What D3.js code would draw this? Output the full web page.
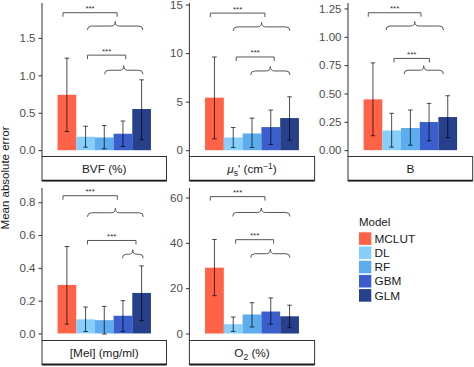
<!DOCTYPE html>
<html>
<head>
  <title>Mean absolute error by model</title>
  <script src="https://d3js.org/d3.v7.min.js"></script>
  <style>
    body { margin: 0; background: #fff; font-family: "Liberation Sans", Arial, sans-serif; }
    .tick text { fill: #4d4d4d; font-size: 11.5px; }
    .tick line { stroke: #333; }
  </style>
</head>
<body>
<div id="chart"></div>
<script>
  // Models and colours
  let models = ['MCLUT', 'DL', 'RF', 'GBM', 'GLM'];
  let modelColors = ['#FF6347', '#87CEFA', '#5CACEE', '#3A5FCD', '#27408B'];

  // Mean absolute error, lower and upper error bar ends, per parameter
  let bvfMean  = [0.74, 0.18, 0.17, 0.22, 0.55];
  let bvfLow   = [0.25, 0.04, 0.02, 0.05, 0.14];
  let bvfHigh  = [1.23, 0.32, 0.33, 0.39, 0.94];

  let musMean  = [5.41, 1.31, 1.72, 2.38, 3.31];
  let musLow   = [1.17, 0.28, 0.28, 0.59, 1.03];
  let musHigh  = [9.6, 2.34, 3.3, 4.13, 5.5];

  let bMean    = [0.448, 0.174, 0.195, 0.248, 0.292];
  let bLow     = [0.127, 0.027, 0.044, 0.083, 0.11];
  let bHigh    = [0.77, 0.325, 0.354, 0.413, 0.48];

  let melMean  = [0.296, 0.086, 0.081, 0.108, 0.247];
  let melLow   = [0.057, 0.012, -0.004, 0.012, 0.078];
  let melHigh  = [0.53, 0.161, 0.165, 0.2, 0.412];

  let o2Mean   = [29.05, 4.1, 8.4, 9.7, 7.6];
  let o2Low    = [16.7, 0.9, 2.9, 4.1, 2.6];
  let o2High   = [41.5, 7.3, 13.6, 15.7, 12.5];

  // Tick labels
  let bvfTicks = [0, 0.5, 1.0, 1.5];
  let musTicks = [0, 5, 10, 15];
  let bTicks   = [0, 0.25, 0.5, 0.75, 1.0, 1.25];
  let melTicks = [0, 0.2, 0.4, 0.6, 0.8];
  let o2Ticks  = [0, 20, 40, 60];

  // Significance marks: [kind, from (bar index), to (bar index), level (data units)]
  let bvfSig = [['bracket', -0.21, 2.69, 1.836], ['brace', 1.1, 4.07, 1.658], ['bracket', 1.1, 3.15, 1.27], ['brace', 2.02, 4.07, 1.068]];
  let musSig = [['bracket', -0.22, 2.69, 14.12], ['brace', 1.0, 4.02, 12.7], ['bracket', 1.16, 3.18, 9.6], ['brace', 1.93, 4.02, 8.16]];
  let bSig   = [['bracket', -0.25, 2.57, 1.212], ['brace', 0.7, 3.77, 1.095], ['bracket', 1.125, 3.02, 0.809], ['brace', 1.66, 3.77, 0.705]];
  let melSig = [['bracket', -0.21, 2.7, 0.84], ['brace', 1.1, 4.09, 0.736], ['bracket', 1.1, 3.7, 0.567], ['brace', 2.97, 4.09, 0.483]];
  let o2Sig  = [['bracket', -0.22, 2.69, 60.4], ['brace', 0.97, 4.02, 53.4], ['bracket', 1.13, 3.15, 41.4], ['brace', 1.93, 4.02, 35.2]];

  let width = 474, height = 367;

  let svg = d3.select('#chart').append('svg')
    .attr('width', width)
    .attr('height', height);

  // panel layout
  let rows = [{ top: 3, bottom: 156.5, stripBottom: 180.7 }, { top: 188, bottom: 340.5, stripBottom: 364.5 }];
  let cols = [{ left: 42, right: 166.5 }, { left: 189.4, right: 314.6 }, { left: 348, right: 472.7 }];

  let panels = [
    { label: 'bvf', mean: bvfMean, low: bvfLow, high: bvfHigh, ticks: bvfTicks, fmt: '.1f', domain: [-0.084, 1.966], sig: bvfSig, row: 0, col: 0 },
    { label: 'mus', mean: musMean, low: musLow, high: musHigh, ticks: musTicks, fmt: 'd', domain: [-0.65, 15.16], sig: musSig, row: 0, col: 1 },
    { label: 'b', mean: bMean, low: bLow, high: bHigh, ticks: bTicks, fmt: '.2f', domain: [-0.056, 1.298], sig: bSig, row: 0, col: 2 },
    { label: 'mel', mean: melMean, low: melLow, high: melHigh, ticks: melTicks, fmt: '.1f', domain: [-0.043, 0.887], sig: melSig, row: 1, col: 0 },
    { label: 'o2', mean: o2Mean, low: o2Low, high: o2High, ticks: o2Ticks, fmt: 'd', domain: [-3.08, 64.2], sig: o2Sig, row: 1, col: 1 }
  ];

  panels.forEach(p => {
    let r = rows[p.row], c = cols[p.col];
    let g = svg.append('g');

    // single discrete x position, bars dodged across 0.9 of it
    let xCont = d3.scaleLinear().domain([0.4, 1.6]).range([c.left, c.right]);
    let x = d3.scaleBand().domain(models).range([xCont(0.55), xCont(1.45)]).padding(0);
    let y = d3.scaleLinear().domain(p.domain).range([r.bottom, r.top]);
    let bw = x.bandwidth();
    let xi = v => x.range()[0] + (v + 0.5) * bw;

    // bars
    g.selectAll('.bar')
      .data(models)
      .enter()
      .append('rect')
      .attr('x', d => x(d))
      .attr('y', (d, i) => y(p.mean[i]))
      .attr('width', bw)
      .attr('height', (d, i) => y(0) - y(p.mean[i]))
      .attr('fill', (d, i) => modelColors[i]);

    // error bars
    let eb = g.selectAll('.err')
      .data(models)
      .enter()
      .append('g')
      .attr('stroke', '#000')
      .attr('stroke-opacity', 0.7)
      .attr('stroke-width', 1);
    eb.append('line')
      .attr('x1', d => x(d) + bw / 2).attr('x2', d => x(d) + bw / 2)
      .attr('y1', (d, i) => y(p.low[i])).attr('y2', (d, i) => y(p.high[i]));
    eb.append('line')
      .attr('x1', d => x(d) + bw / 2 - 2.3).attr('x2', d => x(d) + bw / 2 + 2.3)
      .attr('y1', (d, i) => y(p.low[i])).attr('y2', (d, i) => y(p.low[i]));
    eb.append('line')
      .attr('x1', d => x(d) + bw / 2 - 2.3).attr('x2', d => x(d) + bw / 2 + 2.3)
      .attr('y1', (d, i) => y(p.high[i])).attr('y2', (d, i) => y(p.high[i]));

    // significance brackets and braces
    p.sig.forEach(s => {
      let x1 = xi(s[1]), x2 = xi(s[2]), yy = y(s[3]);
      if (s[0] === 'bracket') {
        g.append('path')
          .attr('d', `M${x1},${yy + 4}V${yy}H${x2}V${yy + 4}`)
          .attr('fill', 'none').attr('stroke', '#555').attr('stroke-width', 1);
        g.append('text')
          .attr('x', (x1 + x2) / 2).attr('y', yy - 1.5)
          .attr('text-anchor', 'middle')
          .style('font-size', '8px').style('fill', '#333')
          .text('***');
      } else {
        let m = (x1 + x2) / 2;
        g.append('path')
          .attr('d', `M${x1},${yy + 4}Q${x1},${yy} ${x1 + 4},${yy}H${m - 4}Q${m},${yy} ${m},${yy - 4.5}Q${m},${yy} ${m + 4},${yy}H${x2 - 4}Q${x2},${yy} ${x2},${yy + 4}`)
          .attr('fill', 'none').attr('stroke', '#555').attr('stroke-width', 1);
      }
    });

    // y axis
    let ax = g.append('g')
      .attr('transform', `translate(${c.left},0)`)
      .call(d3.axisLeft(y).tickValues(p.ticks).tickFormat(d3.format(p.fmt)).tickSize(3.5).tickPadding(3));
    ax.select('.domain').remove();
    ax.selectAll('.tick text').style('font-family', '"Liberation Sans", Arial, sans-serif');
    g.append('line')
      .attr('x1', c.left).attr('x2', c.left)
      .attr('y1', r.top).attr('y2', r.bottom)
      .attr('stroke', '#333').attr('stroke-width', 1);

    // strip at bottom
    g.append('rect')
      .attr('x', c.left).attr('y', r.bottom)
      .attr('width', c.right - c.left).attr('height', r.stripBottom - r.bottom)
      .attr('fill', '#fff').attr('stroke', '#333').attr('stroke-width', 1);
    g.append('line')
      .attr('x1', c.left).attr('x2', c.right)
      .attr('y1', r.stripBottom).attr('y2', r.stripBottom)
      .attr('stroke', '#1a1a1a').attr('stroke-width', 1.8);

    let st = g.append('text')
      .attr('x', (c.left + c.right) / 2)
      .attr('y', (r.bottom + r.stripBottom) / 2 + 4)
      .attr('text-anchor', 'middle')
      .style('font-size', '11.8px').style('fill', '#1a1a1a');
    if (p.label === 'bvf') st.text('BVF (%)');
    if (p.label === 'b') st.text('B');
    if (p.label === 'mel') st.text('[Mel] (mg/ml)');
    if (p.label === 'mus') {
      st.append('tspan').style('font-style', 'italic').text('\u03bc');
      st.append('tspan').attr('dy', 3).style('font-size', '8.5px').text('s');
      st.append('tspan').attr('dy', -3).text("' (cm");
      st.append('tspan').attr('dy', -4).style('font-size', '8.5px').text('\u22121');
      st.append('tspan').attr('dy', 4).text(')');
    }
    if (p.label === 'o2') {
      st.append('tspan').text('O');
      st.append('tspan').attr('dy', 3).style('font-size', '8.5px').text('2');
      st.append('tspan').attr('dy', -3).text(' (%)');
    }
  });

  // y axis title
  svg.append('text')
    .attr('transform', 'translate(9,178) rotate(-90)')
    .attr('text-anchor', 'middle')
    .style('font-size', '11.5px').style('fill', '#1a1a1a')
    .text('Mean absolute error');

  // legend
  let legend = svg.append('g').attr('transform', 'translate(359,0)');
  legend.append('text')
    .attr('x', 0).attr('y', 225.5)
    .style('font-size', '11.5px').style('fill', '#1a1a1a')
    .text('Model');
  let items = legend.selectAll('.item')
    .data(models)
    .enter()
    .append('g')
    .attr('transform', (d, i) => `translate(0,${232.3 + i * 14.2})`);
  items.append('rect')
    .attr('width', 12.3).attr('height', 12.6)
    .attr('fill', (d, i) => modelColors[i]);
  items.append('text')
    .attr('x', 15.5).attr('y', 10.5)
    .style('font-size', '11.8px').style('fill', '#1a1a1a')
    .text(d => d);
</script>
</body>
</html>
